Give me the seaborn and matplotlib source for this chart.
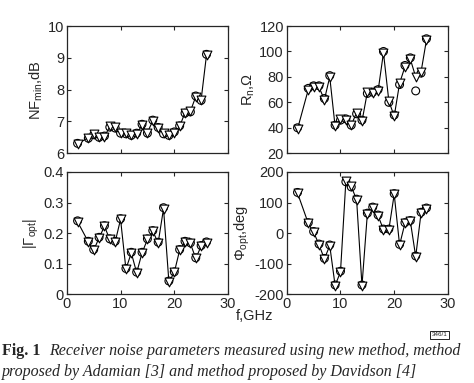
import seaborn as sns
import pandas as pd
from matplotlib import pyplot as plt

# frequencies, GHz
freq = [2, 4, 5, 6, 7, 8, 9, 10, 11, 12, 13, 14, 15, 16, 17, 18, 19, 20, 21, 22, 23, 24, 25, 26]

# new method (line + triangles)
nf_new = [6.29, 6.49, 6.60, 6.52, 6.52, 6.84, 6.81, 6.65, 6.63, 6.58, 6.61, 6.89,
          6.65, 7.02, 6.79, 6.63, 6.58, 6.65, 6.84, 7.28, 7.32, 7.78, 7.68, 9.09]
rn_new = [39, 70, 72, 72, 62, 80, 41, 47, 46, 42, 52, 45,
          68, 67, 69, 99, 61, 49, 75, 88, 94, 80, 84, 109]
gam_new = [0.237, 0.171, 0.144, 0.184, 0.222, 0.179, 0.171, 0.245, 0.082, 0.135, 0.070, 0.135,
           0.179, 0.206, 0.168, 0.280, 0.040, 0.071, 0.144, 0.171, 0.166, 0.117, 0.157, 0.169]
phi_new = [131, 32, 3, -38, -85, -41, -172, -127, 170, 153, 109, -172,
           63, 83, 57, 11, 11, 127, -39, 32, 39, -77, 66, 80]

# other methods (circles)
nf_oth = [6.31, 6.47, 6.58, 6.50, 6.54, 6.82, 6.79, 6.63, 6.61, 6.56, 6.63, 6.91,
          6.63, 7.04, 6.81, 6.61, 6.56, 6.67, 6.86, 7.26, 7.30, 7.80, 7.66, 9.11]
rn_oth = [40, 71, 73, 73, 63, 81, 42, 46, 47, 42, 51, 46,
          67, 68, 70, 100, 60, 50, 74, 89, 95, 69, 83, 110]
gam_oth = [0.240, 0.173, 0.146, 0.186, 0.224, 0.181, 0.173, 0.247, 0.084, 0.137, 0.072, 0.137,
           0.181, 0.208, 0.170, 0.283, 0.043, 0.073, 0.146, 0.173, 0.168, 0.119, 0.159, 0.171]
phi_oth = [133, 34, 5, -36, -83, -39, -170, -125, 168, 151, 111, -170,
           65, 85, 59, 13, 13, 129, -37, 34, 41, -75, 68, 82]

sns.set_style('ticks')
plt.rcParams['font.family'] = ['Liberation Sans', 'DejaVu Sans']
plt.rcParams['font.size'] = 10.5
plt.rcParams['xtick.direction'] = 'in'
plt.rcParams['ytick.direction'] = 'in'
plt.rcParams['xtick.major.size'] = 3
plt.rcParams['ytick.major.size'] = 3
plt.rcParams['axes.linewidth'] = 0.9

fig = plt.figure(figsize=(4.74, 3.83), dpi=100)
pos = [[0.141, 0.600, 0.340, 0.332], [0.605, 0.600, 0.340, 0.332],
       [0.141, 0.232, 0.340, 0.319], [0.605, 0.232, 0.340, 0.319]]
panels = [(nf_new, nf_oth, 'NF$_\\mathregular{min}$,dB', (6, 10), [6, 7, 8, 9, 10], ['6', '7', '8', '9', '10']),
          (rn_new, rn_oth, 'R$_\\mathregular{n}$,Ω', (20, 120), [20, 40, 60, 80, 100, 120],
           ['20', '40', '60', '80', '100', '120']),
          (gam_new, gam_oth, '|Γ$_\\mathregular{opt}$|', (0, 0.4), [0, 0.1, 0.2, 0.3, 0.4],
           ['0', '0.1', '0.2', '0.3', '0.4']),
          (phi_new, phi_oth, 'Φ$_\\mathregular{opt}$,deg', (-200, 200), [-200, -100, 0, 100, 200],
           ['-200', '-100', '0', '100', '200'])]

for i, (ynew, yoth, lab, lim, ticks, tlabels) in enumerate(panels):
    ax = fig.add_axes(pos[i])
    df = pd.DataFrame({'f': freq, 'new': ynew, 'oth': yoth})
    sns.lineplot(data=df, x='f', y='new', ax=ax, color='black', linewidth=0.8)
    sns.scatterplot(data=df, x='f', y='oth', ax=ax, marker='o', s=32, facecolor='none',
                    edgecolor='black', linewidth=0.8, zorder=3)
    sns.scatterplot(data=df, x='f', y='new', ax=ax, marker='v', s=40, facecolor='white',
                    edgecolor='black', linewidth=0.8, zorder=4)
    ax.set_xlim(0, 30)
    ax.set_ylim(*lim)
    ax.set_xticks([0, 10, 20, 30])
    ax.set_yticks(ticks, tlabels)
    ax.tick_params(top=True, right=True, pad=2)
    ax.set_xlabel('')
    ax.set_ylabel(lab, labelpad=2)
    if i < 2:
        ax.set_xticklabels([])

fig.text(0.538, 0.175, 'f,GHz', ha='center', va='center', fontsize=10.5)

fig.text(0.927, 0.126, '346/1', ha='center', va='center', fontsize=4.5,
         bbox=dict(boxstyle='square,pad=0.25', facecolor='white', edgecolor='black', linewidth=0.6))

fig.text(0.004, 0.083, 'Fig. 1', fontsize=11.5, fontweight='bold', family='Liberation Serif', va='center')
fig.text(0.104, 0.083, 'Receiver noise parameters measured using new method, method',
         fontsize=11.5, style='italic', family='Liberation Serif', va='center')
fig.text(0.004, 0.030, 'proposed by Adamian [3] and method proposed by Davidson [4]',
         fontsize=11.5, style='italic', family='Liberation Serif', va='center')

plt.savefig('out.png', dpi=100)
